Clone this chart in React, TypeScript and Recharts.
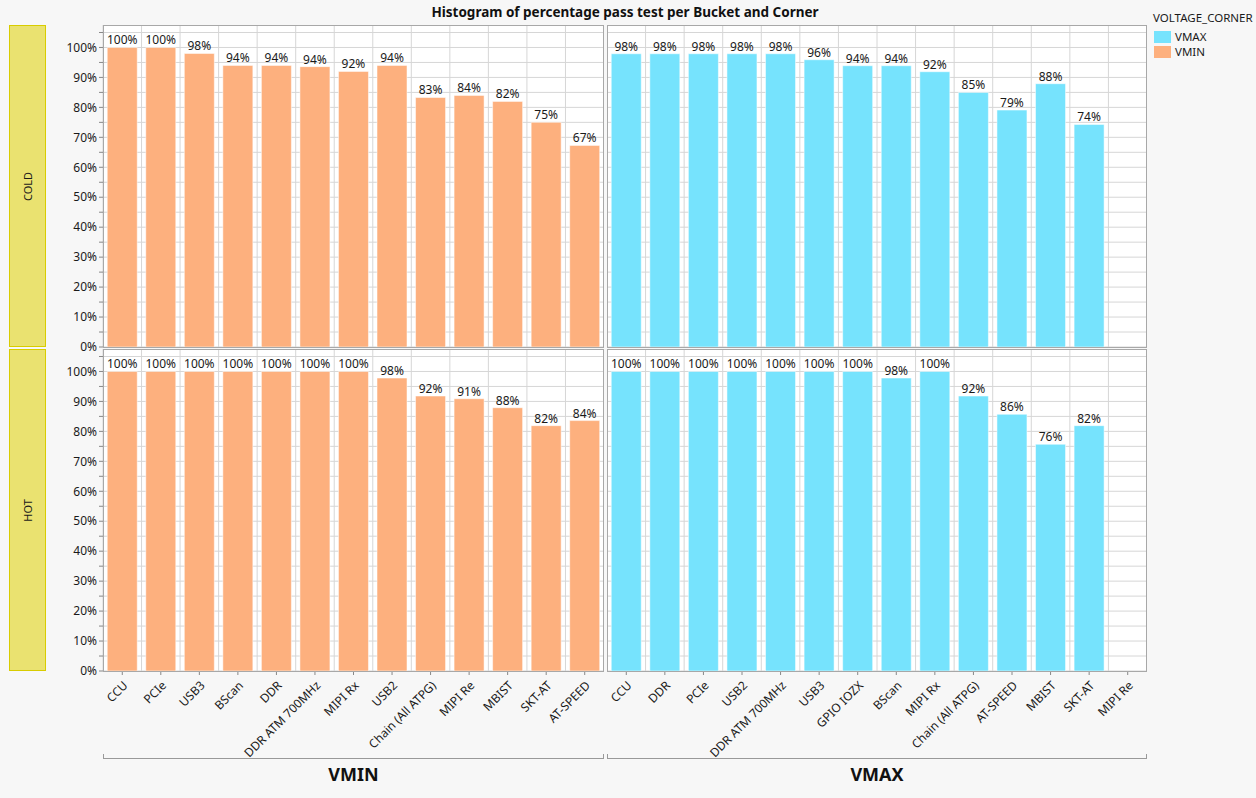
import { Bar, BarChart, CartesianGrid, LabelList, XAxis, YAxis } from 'recharts';

const vminCategories = ['CCU', 'PCIe', 'USB3', 'BScan', 'DDR', 'DDR ATM 700MHz', 'MIPI Rx', 'USB2', 'Chain (All ATPG)', 'MIPI Re', 'MBIST', 'SKT-AT', 'AT-SPEED'];
const vminCold = [100, 100, 98, 94, 94, 93.6, 92, 94, 83.3, 84, 82, 75, 67.3];
const vminHot = [100, 100, 100, 100, 100, 100, 100, 97.8, 91.8, 90.9, 87.9, 81.9, 83.6];

const vmaxCategories = ['CCU', 'DDR', 'PCIe', 'USB2', 'DDR ATM 700MHz', 'USB3', 'GPIO IOZX', 'BScan', 'MIPI Rx', 'Chain (All ATPG)', 'AT-SPEED', 'MBIST', 'SKT-AT', 'MIPI Re'];
const vmaxCold = [97.9, 97.9, 97.9, 97.9, 97.9, 95.9, 93.9, 93.9, 91.9, 85, 79.1, 87.9, 74.3, null];
const vmaxHot = [100, 100, 100, 100, 100, 100, 100, 97.8, 100, 91.8, 85.7, 75.7, 81.9, null];

const yTicks = [0, 5, 10, 15, 20, 25, 30, 35, 40, 45, 50, 55, 60, 65, 70, 75, 80, 85, 90, 95, 100, 105];
const Y_MAX = 107.5;

const FONT = '"Noto Sans", "Open Sans", sans-serif';
const ORANGE = '#FDB07E';
const CYAN = '#76E3FD';
const BG = '#F7F7F7';

const PLOT_TOP = [25, 349];
const PLOT_H = 322;
const LEFT_X = 103;
const LEFT_W = 501;
const RIGHT_X = 607;
const RIGHT_W = 540;
const YAXIS_W = 58;
const XAXIS_H = 92;
const PAD_B = 8;

function makeRows(cats: string[], vals: (number | null)[]) {
  return cats.map((c, i) => ({ name: c, value: vals[i] }));
}

function RotTick({ x, y, payload }: any) {
  return (
    <text
      x={x + 3}
      y={y + 6}
      transform={`rotate(-45, ${x + 3}, ${y + 6})`}
      textAnchor="end"
      dominantBaseline="central"
      fontSize={12}
      fill="#1a1a1a"
      fontFamily={FONT}
    >
      {payload.value}
    </text>
  );
}

function Panel({
  cats,
  vals,
  color,
  showY,
  showX,
  width,
}: {
  cats: string[];
  vals: (number | null)[];
  color: string;
  showY: boolean;
  showX: boolean;
  width: number;
}) {
  const data = makeRows(cats, vals);
  const n = cats.length;
  return (
    <BarChart
      width={width + (showY ? YAXIS_W : 0)}
      height={PLOT_H + (showX ? XAXIS_H : PAD_B)}
      data={data}
      margin={{ top: 0, right: 0, left: 0, bottom: showX ? 0 : PAD_B }}
      barCategoryGap="11%"
    >
      <CartesianGrid
        stroke="#D6D6D6"
        fill="#FFFFFF"
        verticalCoordinatesGenerator={({ offset }: any) =>
          Array.from({ length: n + 1 }, (_, i) => offset.left + (i * offset.width) / n)
        }
        horizontalCoordinatesGenerator={({ offset }: any) =>
          yTicks.map((t) => offset.top + offset.height * (1 - t / Y_MAX))
        }
      />
      <XAxis
        dataKey="name"
        hide={!showX}
        height={XAXIS_H}
        interval={0}
        tick={<RotTick />}
        tickLine={{ stroke: '#888' }}
        tickSize={4}
        axisLine={false}
      />
      <YAxis
        hide={!showY}
        width={YAXIS_W}
        domain={[0, Y_MAX]}
        ticks={yTicks}
        interval={0}
        tickFormatter={(v: number) => (v % 10 === 0 && v <= 100 ? `${v}%` : '')}
        tick={{ fontSize: 12, fill: '#1a1a1a', fontFamily: FONT }}
        tickLine={{ stroke: '#888' }}
        tickSize={4}
        axisLine={false}
        allowDataOverflow
      />
      <Bar dataKey="value" fill={color} stroke="#ffffff" strokeOpacity={0.5} isAnimationActive={false}>
        <LabelList
          dataKey="value"
          position="top"
          offset={3}
          formatter={(v: any) => (v == null ? '' : `${Math.round(v)}%`)}
          style={{ fontSize: 12, fill: '#1a1a1a', fontFamily: FONT }}
        />
      </Bar>
    </BarChart>
  );
}

function Strip({ top, label }: { top: number; label: string }) {
  return (
    <div
      style={{
        position: 'absolute',
        left: 9,
        top,
        width: 35,
        height: PLOT_H - 2,
        background: '#EAE270',
        border: '1px solid #D8CC00',
        display: 'flex',
        alignItems: 'center',
        justifyContent: 'center',
      }}
    >
      <div style={{ transform: 'rotate(-90deg)', fontSize: 11, color: '#1a1a1a', fontFamily: FONT }}>{label}</div>
    </div>
  );
}

function Frame({ left, top, width }: { left: number; top: number; width: number }) {
  return (
    <div
      style={{
        position: 'absolute',
        left,
        top,
        width: width - 2,
        height: PLOT_H - 1,
        border: '1px solid #A8A8A8',
        pointerEvents: 'none',
      }}
    />
  );
}

function Bracket({ left, width, label }: { left: number; width: number; label: string }) {
  return (
    <>
      <div
        style={{
          position: 'absolute',
          left,
          top: 754,
          width: width - 2,
          height: 4,
          borderLeft: '1px solid #999',
          borderRight: '1px solid #999',
          borderBottom: '1px solid #999',
        }}
      />
      <div
        style={{
          position: 'absolute',
          left,
          top: 762,
          width,
          textAlign: 'center',
          fontSize: 18,
          fontWeight: 700,
          color: '#111',
          fontFamily: FONT,
        }}
      >
        {label}
      </div>
    </>
  );
}

export default function App() {
  return (
    <div
      style={{
        position: 'absolute',
        left: 0,
        top: 0,
        width: 1256,
        height: 798,
        background: BG,
        fontFamily: FONT,
        overflow: 'hidden',
      }}
    >
      <div
        style={{
          position: 'absolute',
          left: LEFT_X,
          top: 3,
          width: RIGHT_X + RIGHT_W - LEFT_X,
          textAlign: 'center',
          fontSize: 13.5,
          fontWeight: 700,
          color: '#111',
        }}
      >
        Histogram of percentage pass test per Bucket and Corner
      </div>

      <Strip top={PLOT_TOP[0]} label="COLD" />
      <Strip top={PLOT_TOP[1]} label="HOT" />

      <div style={{ position: 'absolute', left: LEFT_X - YAXIS_W, top: PLOT_TOP[1] }}>
        <Panel cats={vminCategories} vals={vminHot} color={ORANGE} showY showX width={LEFT_W} />
      </div>
      <div style={{ position: 'absolute', left: RIGHT_X, top: PLOT_TOP[1] }}>
        <Panel cats={vmaxCategories} vals={vmaxHot} color={CYAN} showY={false} showX width={RIGHT_W} />
      </div>
      <div style={{ position: 'absolute', left: LEFT_X - YAXIS_W, top: PLOT_TOP[0] }}>
        <Panel cats={vminCategories} vals={vminCold} color={ORANGE} showY showX={false} width={LEFT_W} />
      </div>
      <div style={{ position: 'absolute', left: RIGHT_X, top: PLOT_TOP[0] }}>
        <Panel cats={vmaxCategories} vals={vmaxCold} color={CYAN} showY={false} showX={false} width={RIGHT_W} />
      </div>

      <Frame left={LEFT_X} top={PLOT_TOP[0]} width={LEFT_W} />
      <Frame left={RIGHT_X} top={PLOT_TOP[0]} width={RIGHT_W} />
      <Frame left={LEFT_X} top={PLOT_TOP[1]} width={LEFT_W} />
      <Frame left={RIGHT_X} top={PLOT_TOP[1]} width={RIGHT_W} />

      <Bracket left={LEFT_X} width={LEFT_W} label="VMIN" />
      <Bracket left={RIGHT_X} width={RIGHT_W} label="VMAX" />

      <div style={{ position: 'absolute', left: 1153, top: 10, fontSize: 11.5, color: '#1a1a1a' }}>VOLTAGE_CORNER</div>
      <div style={{ position: 'absolute', left: 1154, top: 31, width: 17, height: 12, background: CYAN }} />
      <div style={{ position: 'absolute', left: 1175, top: 29, fontSize: 11.5, color: '#1a1a1a' }}>VMAX</div>
      <div style={{ position: 'absolute', left: 1154, top: 46, width: 17, height: 12, background: ORANGE }} />
      <div style={{ position: 'absolute', left: 1175, top: 44, fontSize: 11.5, color: '#1a1a1a' }}>VMIN</div>
    </div>
  );
}
